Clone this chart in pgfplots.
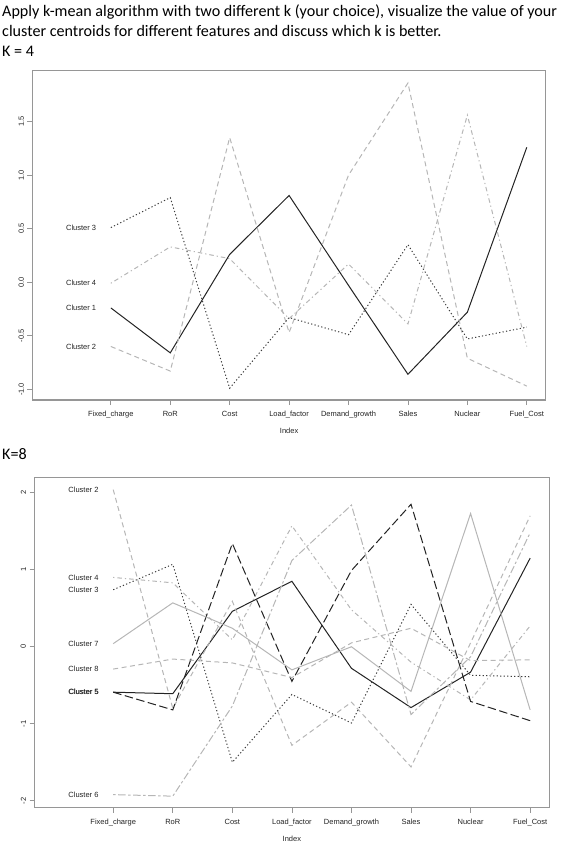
\documentclass[border=0pt]{standalone}
\usepackage{fontspec}
\setmainfont{Liberation Sans}
\newfontfamily\headfont{Carlito}
\usepackage{pgfplots}
\pgfplotsset{compat=1.18}

\definecolor{dk}{RGB}{35,35,35}
\definecolor{dt}{RGB}{60,60,60}
\definecolor{lt}{RGB}{182,182,182}
\definecolor{frm}{RGB}{150,150,150}

\newcommand{\rfont}{\fontsize{7.5}{9}\selectfont}
\newcommand{\hfont}{\headfont\fontsize{16.1}{19}\selectfont}

\tikzset{clab/.style={font=\rfont, text=dk}}

\pgfplotsset{
  kplot/.style={
    scale only axis,
    xmin=-0.32, xmax=8.32,
    xtick={1,...,8},
    xticklabels={Fixed\_charge,RoR,Cost,Load\_factor,Demand\_growth,Sales,Nuclear,Fuel\_Cost},
    tick align=outside, xtick pos=bottom, ytick pos=left,
    major tick length=5pt,
    axis line style={draw=frm, line width=1.1pt},
    tick style={draw=frm, line width=0.8pt},
    ticklabel style={font=\rfont, text=dk},
    xticklabel style={yshift=-3pt},
    yticklabel style={rotate=90, anchor=south},
    xlabel={Index},
    xlabel style={font=\rfont, text=dk, at={(axis description cs:0.5,0)}, anchor=center, yshift=-31pt},
  },
  lty1/.style={no markers, line width=1pt, solid},
  lty2/.style={no markers, line width=1pt, dash pattern=on 5pt off 3.5pt},
  lty3/.style={no markers, line width=1pt, dash pattern=on 1.2pt off 2.3pt},
  lty4/.style={no markers, line width=1pt, dash pattern=on 1.2pt off 3pt on 4.5pt off 3pt},
  lty5/.style={no markers, line width=1pt, dash pattern=on 8.5pt off 3.5pt},
  lty6/.style={no markers, line width=1pt, dash pattern=on 2.5pt off 2.5pt on 7.5pt off 2.5pt},
}

\begin{document}
\begin{tikzpicture}

% header text
\node[anchor=base west, inner sep=0pt, font=\hfont] at (2pt,-17pt)
  {Apply k-mean algorithm with two different k (your choice), visualize the value of your};
\node[anchor=base west, inner sep=0pt, font=\hfont] at (2pt,-37pt)
  {cluster centroids for different features and discuss which k is better.};
\node[anchor=base west, inner sep=0pt, font=\hfont] at (2pt,-57pt)
  {K = 4};
\node[anchor=base west, inner sep=0pt, font=\hfont] at (2pt,-459pt)
  {K=8};

% K = 4
\begin{axis}[kplot,
  at={(32.4pt,-400pt)}, anchor=south west,
  width=513.4pt, height=329.3pt,
  ymin=-1.10, ymax=1.975,
  ytick={-1,-0.5,0,0.5,1,1.5},
  yticklabels={-1.0,-0.5,0.0,0.5,1.0,1.5},
]
\addplot[lty1, dk] coordinates {(1,-0.24) (2,-0.66) (3,0.26) (4,0.81) (5,-0.03) (6,-0.86) (7,-0.28) (8,1.26)};
\addplot[lty2, lt] coordinates {(1,-0.60) (2,-0.83) (3,1.35) (4,-0.47) (5,1.00) (6,1.86) (7,-0.71) (8,-0.97)};
\addplot[lty3, dt] coordinates {(1,0.51) (2,0.79) (3,-0.99) (4,-0.33) (5,-0.49) (6,0.35) (7,-0.53) (8,-0.42)};
\addplot[lty4, lt] coordinates {(1,-0.01) (2,0.33) (3,0.22) (4,-0.34) (5,0.17) (6,-0.39) (7,1.56) (8,-0.60)};
\node[clab] at (axis cs:0.5,-0.24) {Cluster 1};
\node[clab] at (axis cs:0.5,-0.60) {Cluster 2};
\node[clab] at (axis cs:0.5,0.51) {Cluster 3};
\node[clab] at (axis cs:0.5,-0.01) {Cluster 4};
\end{axis}

% K = 8
\begin{axis}[kplot,
  at={(34.6pt,-807.7pt)}, anchor=south west,
  width=514.6pt, height=330.4pt,
  ymin=-2.09, ymax=2.20,
  ytick={-2,-1,0,1,2},
  yticklabels={-2,-1,0,1,2},
]
\addplot[lty1, dk] coordinates {(1,-0.59) (2,-0.61) (3,0.46) (4,0.85) (5,-0.28) (6,-0.79) (7,-0.33) (8,1.15)};
\addplot[lty2, lt] coordinates {(1,2.04) (2,-0.80) (3,0.59) (4,-1.28) (5,-0.72) (6,-1.56) (7,0.05) (8,1.70)};
\addplot[lty3, dt] coordinates {(1,0.74) (2,1.07) (3,-1.50) (4,-0.62) (5,-0.99) (6,0.55) (7,-0.37) (8,-0.39)};
\addplot[lty4, lt] coordinates {(1,0.90) (2,0.83) (3,0.09) (4,1.57) (5,0.48) (6,-0.20) (7,-0.69) (8,0.27)};
\addplot[lty5, dk] coordinates {(1,-0.59) (2,-0.82) (3,1.34) (4,-0.45) (5,0.99) (6,1.85) (7,-0.71) (8,-0.96)};
\addplot[lty6, lt] coordinates {(1,-1.92) (2,-1.94) (3,-0.77) (4,1.12) (5,1.84) (6,-0.88) (7,-0.13) (8,1.48)};
\addplot[lty1, lt] coordinates {(1,0.04) (2,0.57) (3,0.24) (4,-0.30) (5,0.00) (6,-0.58) (7,1.73) (8,-0.82)};
\addplot[lty2, lt] coordinates {(1,-0.29) (2,-0.16) (3,-0.21) (4,-0.40) (5,0.05) (6,0.24) (7,-0.18) (8,-0.17)};
\node[clab] at (axis cs:0.5,2.04) {Cluster 2};
\node[clab] at (axis cs:0.5,0.74) {Cluster 3};
\node[clab] at (axis cs:0.5,0.90) {Cluster 4};
\node[clab] at (axis cs:0.5,-0.59) {Cluster 5};
\node[clab, xshift=0.35pt] at (axis cs:0.5,-0.59) {Cluster 5};
\node[clab] at (axis cs:0.5,-1.92) {Cluster 6};
\node[clab] at (axis cs:0.5,0.04) {Cluster 7};
\node[clab] at (axis cs:0.5,-0.29) {Cluster 8};
\end{axis}

\pgfresetboundingbox
\path (0pt,0pt) rectangle (577pt,-864pt);
\end{tikzpicture}
\end{document}
